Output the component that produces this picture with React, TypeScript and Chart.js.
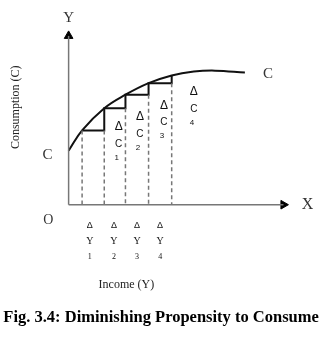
import { useEffect, useRef } from "react";
import { Chart, registerables } from "chart.js";
Chart.register(...registerables);

// Consumption curve (income, consumption)
const curveX = [0, 14, 37, 59, 83, 107, 130, 152, 183];
const curveY = [56, 77, 100, 114, 126, 134, 138, 139, 137];
// Staircase of income / consumption increments
const stepX = [14, 37, 37, 59, 59, 83, 83, 107, 107];
const stepY = [77, 77, 100, 100, 114, 114, 126, 126, 134];
// Dashed drop lines
const dropX = [14, 37, 59, 83, 107];
const dropTop = [77, 77, 100, 114, 126];
// Axes
const axisXEnd = 227;
const axisYEnd = 179;
// ΔC labels
const dcLabels = ["1", "2", "3", "4"];
const dcX = [52, 74, 99, 130];
const dcY = [81, 91, 103, 117];
// ΔY labels
const dyLabels = ["1", "2", "3", "4"];
const dyX = [22, 47, 71, 95];

export default function App() {
  const ref = useRef<HTMLCanvasElement | null>(null);
  useEffect(() => {
    const canvas = ref.current;
    if (!canvas) return;
    const labelPlugin = {
      id: "labels",
      afterDatasetsDraw(chart: any) {
        const ctx = chart.ctx;
        const xs = chart.scales.x;
        const ys = chart.scales.y;
        const px = (v: number) => xs.getPixelForValue(v);
        const py = (v: number) => ys.getPixelForValue(v);
        const txt = (t: string, x: number, y: number, font: string, color = "#000") => {
          ctx.save();
          ctx.font = font;
          ctx.fillStyle = color;
          ctx.textAlign = "center";
          ctx.textBaseline = "middle";
          ctx.fillText(t, px(x), py(y));
          ctx.restore();
        };
        const serif = '"Liberation Serif", "Times New Roman", serif';
        const sans = '"Liberation Sans", Arial, sans-serif';
        txt("Y", 0, 194, `15px ${serif}`, "#333");
        txt("X", 248, 0, `16px ${serif}`, "#333");
        txt("C", -22, 51, `15px ${serif}`, "#333");
        txt("O", -21, -16, `14px ${serif}`, "#333");
        txt("C", 207, 135, `15px ${serif}`, "#333");
        // rotated y title
        ctx.save();
        ctx.translate(px(-55), py(101));
        ctx.rotate(-Math.PI / 2);
        ctx.font = `12px ${serif}`;
        ctx.fillStyle = "#222";
        ctx.textAlign = "center";
        ctx.textBaseline = "middle";
        ctx.fillText("Consumption (C)", 0, 0);
        ctx.restore();
        dcLabels.forEach((d, i) => {
          txt("Δ", dcX[i], dcY[i], `12px ${sans}`, "#111");
          txt("C", dcX[i], dcY[i] - 18, `10px ${sans}`, "#111");
          txt(d, dcX[i] - 2, dcY[i] - 32, `8px ${sans}`, "#111");
        });
        dyLabels.forEach((d, i) => {
          txt("Δ", dyX[i], -22, `9px ${sans}`, "#111");
          txt("Y", dyX[i], -38, `10px ${serif}`, "#111");
          txt(d, dyX[i], -54, `8px ${serif}`, "#111");
        });
        txt("Income (Y)", 60, -83, `12px ${serif}`, "#222");
        ctx.save();
        ctx.font = `bold 16.5px ${serif}`;
        ctx.fillStyle = "#000";
        ctx.textAlign = "center";
        ctx.textBaseline = "alphabetic";
        ctx.fillText("Fig. 3.4: Diminishing Propensity to Consume", px(96), py(-122));
        ctx.restore();
      },
    };
    const datasets: any[] = [];
    datasets.push({
      data: [{ x: 0, y: 0 }, { x: axisXEnd - 4, y: 0 }],
      borderColor: "#777",
      borderWidth: 1.5,
      pointRadius: 0,
    });
    datasets.push({
      data: [{ x: 0, y: 0 }, { x: 0, y: axisYEnd - 4 }],
      borderColor: "#777",
      borderWidth: 1.5,
      pointRadius: 0,
    });
    dropX.forEach((x, i) => {
      datasets.push({
        data: [{ x, y: dropTop[i] }, { x, y: 0 }],
        borderColor: "#777",
        borderWidth: 1.5,
        borderDash: [4, 3],
        pointRadius: 0,
      });
    });
    datasets.push({
      data: curveX.map((x, i) => ({ x, y: curveY[i] })),
      borderColor: "#111",
      borderWidth: 2,
      pointRadius: 0,
      tension: 0.4,
    });
    datasets.push({
      data: stepX.map((x, i) => ({ x, y: stepY[i] })),
      borderColor: "#111",
      borderWidth: 2,
      pointRadius: 0,
    });
    datasets.push({
      data: [{ x: axisXEnd - 4, y: 0 }],
      pointStyle: "triangle",
      rotation: 90,
      pointRadius: 5,
      backgroundColor: "#000",
      borderColor: "#000",
      borderWidth: 1,
      showLine: false,
    });
    datasets.push({
      data: [{ x: 0, y: axisYEnd - 4 }],
      pointStyle: "triangle",
      rotation: 0,
      pointRadius: 5,
      backgroundColor: "#000",
      borderColor: "#000",
      borderWidth: 1,
      showLine: false,
    });
    const chart = new Chart(canvas, {
      type: "scatter",
      data: { datasets: datasets.map((d) => ({ showLine: true, clip: false, ...d })) },
      options: {
        animation: false,
        responsive: false,
        layout: { padding: 0 },
        plugins: { legend: { display: false }, tooltip: { enabled: false } },
        scales: {
          x: { type: "linear", min: -65, max: 262, display: false },
          y: { type: "linear", min: -133, max: 206, display: false },
        },
      },
      plugins: [labelPlugin],
    });
    return () => chart.destroy();
  }, []);
  return (
    <div style={{ position: "fixed", left: 0, top: 0, width: 327, height: 339, background: "#fff" }}>
      <canvas ref={ref} width={327} height={339} />
    </div>
  );
}
